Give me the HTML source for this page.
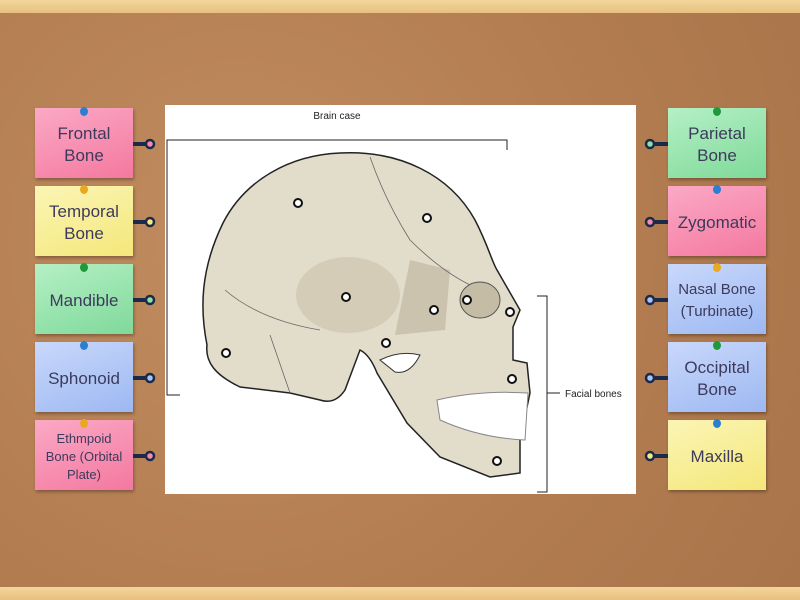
<!DOCTYPE html>
<html><head><style>
body{margin:0;width:800px;height:600px;overflow:hidden;position:relative;background:#b8845a;font-family:"Liberation Sans",sans-serif}
.cork{position:absolute;left:0;top:12px;width:800px;height:575px;background:radial-gradient(circle at 30% 40%,#c08c60,#b27c50 60%,#a9744a)}
.frame{position:absolute;left:0;width:800px;height:13px;background:linear-gradient(#f3d69c,#e8c07f)}
.card{position:absolute;width:98px;height:70px;display:flex;align-items:center;justify-content:center;text-align:center;color:#3d3a5c;font-size:17px;line-height:22px;box-shadow:1px 2px 3px rgba(0,0,0,.3);padding-top:4px;box-sizing:border-box}
.pink{background:linear-gradient(160deg,#fba9c6,#f4789f)}
.yellow{background:linear-gradient(160deg,#fbf5b5,#f4e77a)}
.green{background:linear-gradient(160deg,#b5f0c5,#7fd99a)}
.blue{background:linear-gradient(160deg,#c9d8fb,#9db8f2)}
.pin{position:absolute;width:8px;height:9px;border-radius:50%;left:45px;top:-1px}
.img{position:absolute;left:165px;top:105px;width:471px;height:389px;background:#fff}
</style></head><body>
<div class="cork"></div>
<div class="frame" style="top:0"></div>
<div class="frame" style="top:587px"></div>
<div class="img"></div>

<div class="card pink" style="left:35px;top:108px">Frontal<br>Bone<div class="pin" style="background:#2a7fd0"></div></div>
<div class="card yellow" style="left:35px;top:186px">Temporal<br>Bone<div class="pin" style="background:#e8a820"></div></div>
<div class="card green" style="left:35px;top:264px">Mandible<div class="pin" style="background:#1f9a3a"></div></div>
<div class="card blue" style="left:35px;top:342px">Sphonoid<div class="pin" style="background:#2a7fd0"></div></div>
<div class="card pink" style="left:35px;top:420px;font-size:13px;line-height:18px">Ethmpoid<br>Bone (Orbital<br>Plate)<div class="pin" style="background:#e8a820"></div></div>

<div class="card green" style="left:668px;top:108px">Parietal<br>Bone<div class="pin" style="background:#1f9a3a"></div></div>
<div class="card pink" style="left:668px;top:186px">Zygomatic<div class="pin" style="background:#2a7fd0"></div></div>
<div class="card blue" style="left:668px;top:264px;font-size:15px">Nasal Bone<br>(Turbinate)<div class="pin" style="background:#e8a820"></div></div>
<div class="card blue" style="left:668px;top:342px">Occipital<br>Bone<div class="pin" style="background:#1f9a3a"></div></div>
<div class="card yellow" style="left:668px;top:420px">Maxilla<div class="pin" style="background:#2a7fd0"></div></div>

<svg style="position:absolute;left:0;top:0" width="800" height="600">
<g stroke="#1c2a4a" stroke-width="4">
<line x1="133" y1="144" x2="146" y2="144"/><line x1="133" y1="222" x2="146" y2="222"/><line x1="133" y1="300" x2="146" y2="300"/><line x1="133" y1="378" x2="146" y2="378"/><line x1="133" y1="456" x2="146" y2="456"/>
<line x1="654" y1="144" x2="668" y2="144"/><line x1="654" y1="222" x2="668" y2="222"/><line x1="654" y1="300" x2="668" y2="300"/><line x1="654" y1="378" x2="668" y2="378"/><line x1="654" y1="456" x2="668" y2="456"/>
</g>
<g stroke="#1c2a4a" stroke-width="2.5">
<circle cx="150" cy="144" r="4" fill="#f48ab0"/><circle cx="150" cy="222" r="4" fill="#f6ea80"/><circle cx="150" cy="300" r="4" fill="#8ee0a8"/><circle cx="150" cy="378" r="4" fill="#a9c2f5"/><circle cx="150" cy="456" r="4" fill="#f48ab0"/>
<circle cx="650" cy="144" r="4" fill="#8ee0a8"/><circle cx="650" cy="222" r="4" fill="#f48ab0"/><circle cx="650" cy="300" r="4" fill="#a9c2f5"/><circle cx="650" cy="378" r="4" fill="#a9c2f5"/><circle cx="650" cy="456" r="4" fill="#f6ea80"/>
</g>
<g stroke="#222" stroke-width="1" fill="none">
<polyline points="507,150 507,140 167,140 167,395 180,395"/>
<polyline points="537,296 547,296 547,492 537,492"/>
<line x1="547" y1="393" x2="560" y2="393"/>
</g>
<text x="337" y="119" font-size="10" text-anchor="middle" fill="#222">Brain case</text>
<text x="565" y="397" font-size="10" fill="#222">Facial bones</text>
<path d="M240,387 C215,375 205,362 207,345 C200,310 200,270 223,223 C245,180 290,155 340,153 C400,150 450,175 475,220 C488,245 492,262 497,270 L520,310 L513,327 L513,360 L527,363 L530,393 L520,440 L520,473 L490,477 L440,457 L407,423 L377,373 Q370,355 360,350 L345,390 Q335,405 320,400 L290,393 Z" fill="#e2dccb" stroke="#222" stroke-width="1.5"/>
<ellipse cx="348" cy="295" rx="52" ry="38" fill="#d4ccb7"/>
<path d="M410,260 L450,270 L445,330 L395,335 Z" fill="#cbc3ad"/>
<ellipse cx="480" cy="300" rx="20" ry="18" fill="#c4bca5" stroke="#555" stroke-width="1"/>
<path d="M380,360 Q400,350 420,355 Q410,375 395,372 Z" fill="#fff" stroke="#333"/>
<path d="M437,400 Q480,390 528,393 L525,440 Q480,438 440,420 Z" fill="#fff" stroke="#888"/>
<path d="M370,157 Q385,200 410,240 Q440,270 470,285 M225,290 Q260,320 320,330 M290,393 L270,335" stroke="#666" stroke-width="0.8" fill="none"/>
<g fill="#fff" stroke="#111" stroke-width="2">
<circle cx="298" cy="203" r="4"/><circle cx="427" cy="218" r="4"/><circle cx="346" cy="297" r="4"/><circle cx="434" cy="310" r="4"/><circle cx="467" cy="300" r="4"/><circle cx="510" cy="312" r="4"/><circle cx="226" cy="353" r="4"/><circle cx="386" cy="343" r="4"/><circle cx="512" cy="379" r="4"/><circle cx="497" cy="461" r="4"/>
</g>
</svg>
</body></html>
